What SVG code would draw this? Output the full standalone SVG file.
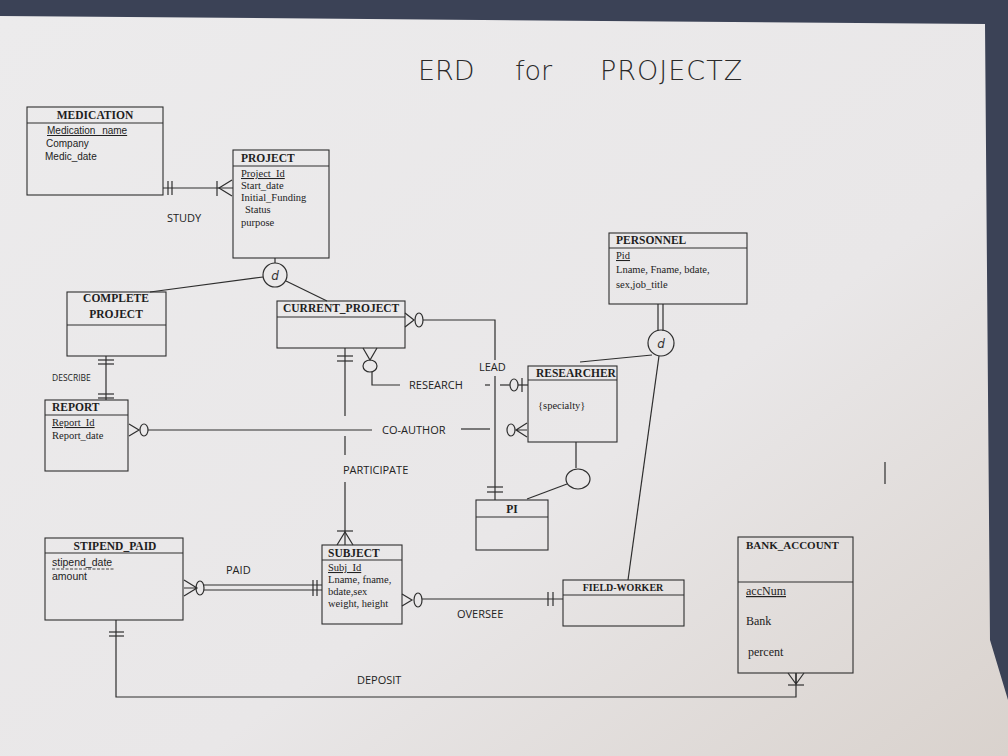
<svg xmlns="http://www.w3.org/2000/svg" width="1008" height="756" viewBox="0 0 1008 756">
<defs>
<style>
.box{fill:none;stroke:#2e2e2e;stroke-width:1.1}
.ln{fill:none;stroke:#2e2e2e;stroke-width:1.2}
.ttl{font-family:"Liberation Serif",serif;font-weight:bold;font-size:11.5px;fill:#1e1e1e}
.att{font-family:"Liberation Serif",serif;font-size:10.5px;fill:#222}
.sat{font-family:"Liberation Sans",Arial,sans-serif;font-size:10px;fill:#222}
.rel{font-family:"Open Sans","Liberation Sans",sans-serif;font-size:11px;fill:#222}
.hand{font-family:"DejaVu Sans",sans-serif;font-weight:200;font-size:27px;fill:#2a2a2a}
.u{text-decoration:underline}
</style>
<linearGradient id="paper" x1="0" y1="0" x2="1" y2="1">
<stop offset="0" stop-color="#ecebec"/>
<stop offset="0.6" stop-color="#e9e7e8"/>
<stop offset="1" stop-color="#d9d2cd"/>
</linearGradient>
</defs>
<rect x="0" y="0" width="1008" height="756" fill="#3b4256"/>
<polygon points="0,16 985,24 990,640 1008,700 1008,756 0,756" fill="url(#paper)"/>

<g id="title">
<text class="hand" x="418" y="80">ERD</text>
<text class="hand" x="515" y="80">for</text>
<text class="hand" x="600" y="80" letter-spacing="1">PROJECTZ</text>
</g>

<g id="medication">
<rect class="box" x="27" y="107" width="136" height="88"/>
<line class="box" x1="27" y1="123" x2="163" y2="123"/>
<text class="ttl" x="95" y="119" text-anchor="middle">MEDICATION</text>
<text class="sat u" x="47" y="134" word-spacing="4">Medication name</text>
<text class="sat" x="46" y="147">Company</text>
<text class="sat" x="45" y="160">Medic_date</text>
</g>

<g id="project">
<rect class="box" x="233" y="150" width="96" height="108"/>
<line class="box" x1="233" y1="166" x2="329" y2="166"/>
<text class="ttl" x="241" y="162">PROJECT</text>
<text class="att u" x="241" y="177">Project_Id</text>
<text class="att" x="241" y="189">Start_date</text>
<text class="att" x="241" y="201">Initial_Funding</text>
<text class="att" x="245" y="213">Status</text>
<text class="att" x="241" y="226">purpose</text>
</g>

<g id="complete-project">
<rect class="box" x="67" y="292" width="99" height="64"/>
<line class="box" x1="67" y1="325" x2="166" y2="325"/>
<text class="ttl" x="116" y="302" text-anchor="middle">COMPLETE</text>
<text class="ttl" x="116" y="318" text-anchor="middle">PROJECT</text>
</g>

<g id="current-project">
<rect class="box" x="277" y="301" width="128" height="47"/>
<line class="box" x1="277" y1="317" x2="405" y2="317"/>
<text class="ttl" x="283" y="312">CURRENT_PROJECT</text>
</g>

<g id="report">
<rect class="box" x="45" y="400" width="83" height="71"/>
<line class="box" x1="45" y1="415" x2="128" y2="415"/>
<text class="ttl" x="52" y="411">REPORT</text>
<text class="att u" x="52" y="426">Report_Id</text>
<text class="att" x="52" y="439">Report_date</text>
</g>

<g id="personnel">
<rect class="box" x="609" y="233" width="138" height="71"/>
<line class="box" x1="609" y1="248" x2="747" y2="248"/>
<text class="ttl" x="616" y="244">PERSONNEL</text>
<text class="att u" x="616" y="259">Pid</text>
<text class="att" x="616" y="273">Lname, Fname, bdate,</text>
<text class="att" x="616" y="288">sex,job_title</text>
</g>

<g id="researcher">
<rect class="box" x="528" y="366" width="89" height="76"/>
<line class="box" x1="528" y1="380" x2="617" y2="380"/>
<text class="ttl" x="536" y="377">RESEARCHER</text>
<text class="att" x="538" y="409">{specialty}</text>
</g>

<g id="pi">
<rect class="box" x="476" y="500" width="72" height="50"/>
<line class="box" x1="476" y1="517" x2="548" y2="517"/>
<text class="ttl" x="512" y="513" text-anchor="middle">PI</text>
</g>

<g id="stipend-paid">
<rect class="box" x="45" y="538" width="138" height="82"/>
<line class="box" x1="45" y1="553" x2="183" y2="553"/>
<text class="ttl" x="115" y="550" text-anchor="middle">STIPEND_PAID</text>
<text class="sat" x="52" y="566" style="font-size:10.5px">stipend_date</text>
<line x1="52" y1="569" x2="114" y2="569" stroke="#333" stroke-width="0.9" stroke-dasharray="3,1.5"/>
<text class="sat" x="52" y="580" style="font-size:10.5px">amount</text>
</g>

<g id="subject">
<rect class="box" x="322" y="545" width="80" height="79"/>
<line class="box" x1="322" y1="560" x2="402" y2="560"/>
<text class="ttl" x="328" y="557">SUBJECT</text>
<text class="att u" x="328" y="571">Subj_Id</text>
<text class="att" x="328" y="583">Lname, fname,</text>
<text class="att" x="328" y="595">bdate,sex</text>
<text class="att" x="328" y="607">weight, height</text>
</g>

<g id="field-worker">
<rect class="box" x="563" y="580" width="121" height="46"/>
<line class="box" x1="563" y1="595" x2="684" y2="595"/>
<text class="ttl" x="623" y="591" text-anchor="middle" style="font-size:10px">FIELD-WORKER</text>
</g>

<g id="bank-account">
<rect class="box" x="738" y="537" width="115" height="136"/>
<line class="box" x1="738" y1="582" x2="853" y2="582"/>
<text class="ttl" x="746" y="549" style="font-size:11px">BANK_ACCOUNT</text>
<text class="att u" x="746" y="595" style="font-size:12px">accNum</text>
<text class="att" x="746" y="625" style="font-size:12px">Bank</text>
<text class="att" x="748" y="656" style="font-size:12px">percent</text>
</g>

<g id="connectors">
<!-- STUDY -->
<line class="ln" x1="163" y1="188" x2="233" y2="188"/>
<line class="ln" x1="168" y1="181" x2="168" y2="195"/>
<line class="ln" x1="172" y1="181" x2="172" y2="195"/>
<line class="ln" x1="217" y1="181" x2="217" y2="196"/>
<path class="ln" d="M232,180 L219,188 L232,196"/>
<text class="rel" x="167" y="222">STUDY</text>

<!-- disjoint PROJECT -->
<line class="ln" x1="275" y1="258" x2="275" y2="263"/>
<circle class="ln" cx="275" cy="275" r="12"/>
<text x="275" y="280" text-anchor="middle" font-family="DejaVu Sans,sans-serif" font-size="12" font-style="italic" fill="#333">d</text>
<line class="ln" x1="263" y1="277" x2="150" y2="292"/>
<line class="ln" x1="286" y1="281" x2="327" y2="301"/>

<!-- DESCRIBE -->
<line class="ln" x1="106" y1="356" x2="106" y2="400"/>
<line class="ln" x1="98" y1="360" x2="114" y2="360"/>
<line class="ln" x1="98" y1="364" x2="114" y2="364"/>
<line class="ln" x1="98" y1="394" x2="114" y2="394"/>
<line class="ln" x1="98" y1="398" x2="114" y2="398"/>
<text class="rel" x="52" y="381" style="font-size:8.5px">DESCRIBE</text>

<!-- LEAD -->
<path class="ln" d="M405,313 L414,320 L405,327"/>
<ellipse class="ln" cx="419" cy="320" rx="4" ry="7"/>
<polyline class="ln" points="423,320 495,320 495,360"/>
<text class="rel" x="479" y="371">LEAD</text>
<line class="ln" x1="495" y1="376" x2="495" y2="500"/>
<line class="ln" x1="487" y1="487" x2="503" y2="487"/>
<line class="ln" x1="487" y1="492" x2="503" y2="492"/>

<!-- RESEARCH -->
<path class="ln" d="M363,348 L370,360 L377,348"/>
<ellipse class="ln" cx="370" cy="366" rx="7" ry="6"/>
<polyline class="ln" points="372,372 372,385 400,385"/>
<text class="rel" x="409" y="389">RESEARCH</text>
<line class="ln" x1="485" y1="385" x2="490" y2="385"/>
<line class="ln" x1="500" y1="385" x2="510" y2="385"/>
<ellipse class="ln" cx="514" cy="385" rx="4" ry="6"/>
<line class="ln" x1="518" y1="385" x2="528" y2="385"/>
<line class="ln" x1="522" y1="378" x2="522" y2="392"/>

<!-- CO-AUTHOR -->
<path class="ln" d="M129,424 L139,430 L129,436"/>
<ellipse class="ln" cx="144" cy="430" rx="4" ry="6"/>
<line class="ln" x1="148" y1="430" x2="372" y2="430"/>
<text class="rel" x="382" y="434">CO-AUTHOR</text>
<line class="ln" x1="461" y1="429" x2="490" y2="429"/>
<ellipse class="ln" cx="511" cy="430" rx="4" ry="6"/>
<path class="ln" d="M527,423 L516,430 L527,437 M516,430 L527,430"/>

<!-- PARTICIPATE -->
<line class="ln" x1="345" y1="348" x2="345" y2="416"/>
<line class="ln" x1="337" y1="356" x2="353" y2="356"/>
<line class="ln" x1="337" y1="361" x2="353" y2="361"/>
<line class="ln" x1="345" y1="436" x2="345" y2="455"/>
<text class="rel" x="343" y="474">PARTICIPATE</text>
<line class="ln" x1="345" y1="482" x2="345" y2="545"/>
<line class="ln" x1="337" y1="531" x2="353" y2="531"/>
<path class="ln" d="M337,545 L345,532 L353,545"/>

<!-- PAID -->
<path class="ln" d="M184,580 L197,588 L184,596 M184,588 L197,588"/>
<ellipse class="ln" cx="200" cy="588" rx="4" ry="7"/>
<line class="ln" x1="204" y1="585" x2="322" y2="585"/>
<line class="ln" x1="204" y1="590" x2="322" y2="590"/>
<line class="ln" x1="313" y1="580" x2="313" y2="596"/>
<line class="ln" x1="317" y1="580" x2="317" y2="596"/>
<text class="rel" x="226" y="574">PAID</text>

<!-- OVERSEE -->
<path class="ln" d="M402,594 L412,600 L402,606"/>
<ellipse class="ln" cx="418" cy="600" rx="4" ry="7"/>
<line class="ln" x1="422" y1="599" x2="563" y2="599"/>
<line class="ln" x1="548" y1="592" x2="548" y2="606"/>
<line class="ln" x1="553" y1="592" x2="553" y2="606"/>
<text class="rel" x="457" y="618">OVERSEE</text>

<!-- disjoint PERSONNEL -->
<line class="ln" x1="658" y1="304" x2="658" y2="331"/>
<line class="ln" x1="663" y1="304" x2="663" y2="331"/>
<circle class="ln" cx="661" cy="343" r="13"/>
<text x="661" y="348" text-anchor="middle" font-family="DejaVu Sans,sans-serif" font-size="12" font-style="italic" fill="#333">d</text>
<line class="ln" x1="652" y1="355" x2="580" y2="362"/>
<line class="ln" x1="659" y1="356" x2="628" y2="580"/>

<!-- RESEARCHER - PI -->
<line class="ln" x1="576" y1="442" x2="576" y2="468"/>
<ellipse class="ln" cx="578" cy="479" rx="12" ry="10"/>
<line class="ln" x1="567" y1="484" x2="527" y2="499"/>

<!-- DEPOSIT -->
<polyline class="ln" points="116,620 116,697 796,697 796,673"/>
<line class="ln" x1="109" y1="632" x2="124" y2="632"/>
<line class="ln" x1="109" y1="636" x2="124" y2="636"/>
<line class="ln" x1="788" y1="685" x2="804" y2="685"/>
<path class="ln" d="M788,673 L796,684 L804,673 M796,684 L796,673"/>
<text class="rel" x="357" y="684">DEPOSIT</text>

<line class="ln" x1="885" y1="462" x2="885" y2="484"/>
</g>
</svg>
